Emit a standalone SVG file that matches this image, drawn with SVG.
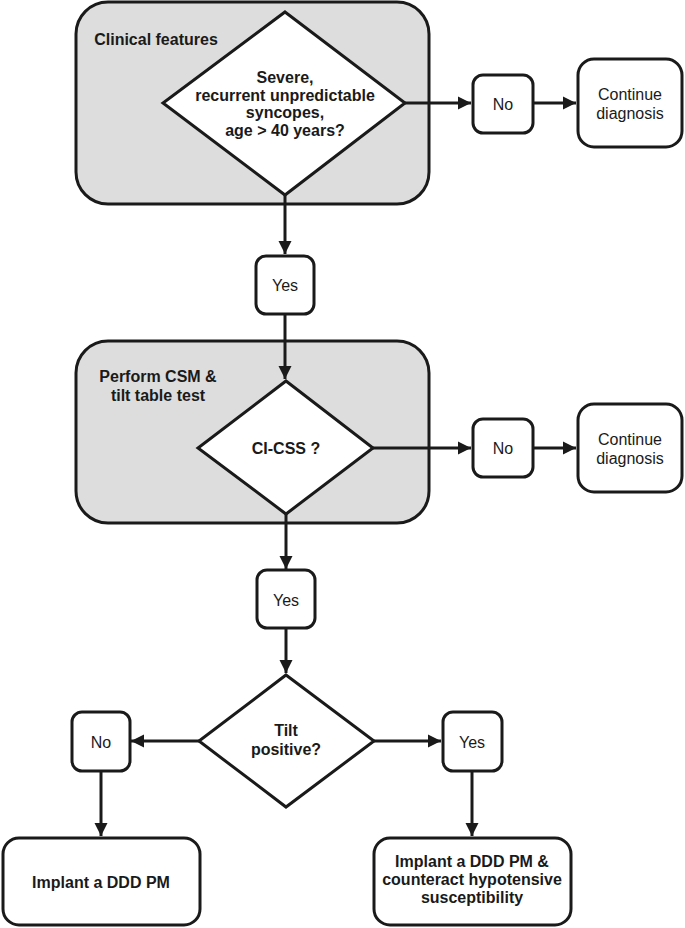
<svg xmlns="http://www.w3.org/2000/svg" width="685" height="928" viewBox="0 0 685 928">
<style>
.grp{fill:#dddddd;stroke:#1a1a1a;stroke-width:3}
.box{fill:#ffffff;stroke:#1a1a1a;stroke-width:3}
.dia{fill:#ffffff;stroke:#1a1a1a;stroke-width:3;stroke-linejoin:miter}
.ln{fill:none;stroke:#1a1a1a;stroke-width:3}
text{font-family:"Liberation Sans",Arial,sans-serif;font-size:16px;fill:#1a1a1a;text-anchor:middle}
.b{font-weight:bold}
</style>
<defs>
<marker id="ah" markerUnits="userSpaceOnUse" markerWidth="14" markerHeight="14" refX="13" refY="7" orient="auto">
<path d="M0,0.5 L13,7 L0,13.5 z" fill="#1a1a1a"/>
</marker>
</defs>
<g id="group-clinical">
<rect class="grp" x="76" y="2" width="353" height="202" rx="32"/>
<text class="b" x="156" y="45">Clinical features</text>
</g>
<g id="group-csm">
<rect class="grp" x="76" y="341" width="353" height="182" rx="32"/>
<text class="b" x="158" y="382">Perform CSM &amp;</text>
<text class="b" x="158" y="401">tilt table test</text>
</g>
<g id="connectors">
<line class="ln" x1="405" y1="103" x2="471" y2="103" marker-end="url(#ah)"/>
<line class="ln" x1="533" y1="103" x2="576" y2="103" marker-end="url(#ah)"/>
<line class="ln" x1="285" y1="195" x2="285" y2="254" marker-end="url(#ah)"/>
<line class="ln" x1="285" y1="315" x2="285" y2="379" marker-end="url(#ah)"/>
<line class="ln" x1="373" y1="448" x2="471" y2="448" marker-end="url(#ah)"/>
<line class="ln" x1="533" y1="448" x2="576" y2="448" marker-end="url(#ah)"/>
<line class="ln" x1="286" y1="514" x2="286" y2="569" marker-end="url(#ah)"/>
<line class="ln" x1="286" y1="628" x2="286" y2="673" marker-end="url(#ah)"/>
<line class="ln" x1="199" y1="741" x2="131" y2="741" marker-end="url(#ah)"/>
<line class="ln" x1="374" y1="741" x2="441" y2="741" marker-end="url(#ah)"/>
<line class="ln" x1="101" y1="771" x2="101" y2="836" marker-end="url(#ah)"/>
<line class="ln" x1="472" y1="771" x2="472" y2="836" marker-end="url(#ah)"/>
</g>
<g id="d1">
<polygon class="dia" points="285,12 405,103 285,195 163,103"/>
<text class="b" x="285" y="83">Severe,</text>
<text class="b" x="285" y="100.5">recurrent unpredictable</text>
<text class="b" x="285" y="118">syncopes,</text>
<text class="b" x="285" y="135.5">age &gt; 40 years?</text>
</g>
<g id="no1">
<rect class="box" x="473" y="75" width="60" height="58" rx="10"/>
<text x="503" y="110">No</text>
</g>
<g id="cont1">
<rect class="box" x="578" y="59" width="104" height="88" rx="16"/>
<text x="630" y="100">Continue</text>
<text x="630" y="119">diagnosis</text>
</g>
<g id="yes1">
<rect class="box" x="256" y="256" width="58" height="58" rx="10"/>
<text x="285" y="291">Yes</text>
</g>
<g id="d2">
<polygon class="dia" points="286,381 373,448 286,514 198,448"/>
<text class="b" x="286" y="454">CI-CSS ?</text>
</g>
<g id="no2">
<rect class="box" x="473" y="419" width="60" height="58" rx="10"/>
<text x="503" y="454">No</text>
</g>
<g id="cont2">
<rect class="box" x="578" y="404" width="104" height="88" rx="16"/>
<text x="630" y="445">Continue</text>
<text x="630" y="464">diagnosis</text>
</g>
<g id="yes2">
<rect class="box" x="257" y="570" width="58" height="58" rx="10"/>
<text x="286" y="606">Yes</text>
</g>
<g id="d3">
<polygon class="dia" points="286,675 374,741 286,807 199,741"/>
<text class="b" x="286" y="736">Tilt</text>
<text class="b" x="286" y="755">positive?</text>
</g>
<g id="no3">
<rect class="box" x="72" y="712" width="58" height="59" rx="10"/>
<text x="101" y="748">No</text>
</g>
<g id="yes3">
<rect class="box" x="443" y="712" width="59" height="59" rx="10"/>
<text x="472" y="748">Yes</text>
</g>
<g id="impl1">
<rect class="box" x="3" y="838" width="197" height="87" rx="16"/>
<text class="b" x="101" y="888">Implant a DDD PM</text>
</g>
<g id="impl2">
<rect class="box" x="374" y="838" width="197" height="87" rx="16"/>
<text class="b" x="472" y="867">Implant a DDD PM &amp;</text>
<text class="b" x="472" y="885">counteract hypotensive</text>
<text class="b" x="472" y="903">susceptibility</text>
</g>
</svg>
